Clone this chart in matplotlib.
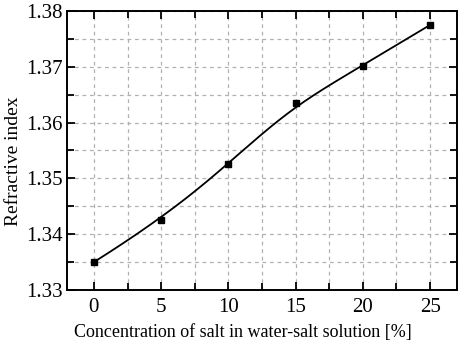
import numpy as np
import matplotlib
matplotlib.use("Agg")
import matplotlib.pyplot as plt
from matplotlib.ticker import MultipleLocator

concentration = [0, 5, 10, 15, 20, 25]
refractive_index = [1.3350, 1.3426, 1.3525, 1.3636, 1.3702, 1.3775]
x_ticks = [0, 5, 10, 15, 20, 25]
y_ticks = [1.33, 1.34, 1.35, 1.36, 1.37, 1.38]

plt.rcParams['font.family'] = ['Liberation Serif', 'DejaVu Serif']
plt.rcParams['mathtext.fontset'] = 'stix'


def bspline_curve(px, py, degree=3, num=300):
    """Clamped B-spline using the data points as control points."""
    px = np.asarray(px, float)
    py = np.asarray(py, float)
    n = len(px)
    inner = np.arange(1, n - degree)
    knots = np.concatenate([np.zeros(degree + 1), inner,
                            np.full(degree + 1, n - degree)]).astype(float)
    t = np.linspace(0, n - degree, num)
    t[-1] -= 1e-9

    def basis(i, k, tt):
        if k == 0:
            return np.where((knots[i] <= tt) & (tt < knots[i + 1]), 1.0, 0.0)
        d1 = knots[i + k] - knots[i]
        d2 = knots[i + k + 1] - knots[i + 1]
        a = 0.0 if d1 == 0 else (tt - knots[i]) / d1 * basis(i, k - 1, tt)
        b = 0.0 if d2 == 0 else (knots[i + k + 1] - tt) / d2 * basis(i + 1, k - 1, tt)
        return a + b

    B = np.array([basis(i, degree, t) for i in range(n)])
    return B.T @ px, B.T @ py


fig = plt.figure(figsize=(4.74, 3.51), dpi=100)
ax = fig.add_axes([67/474, 1 - 290/351, (457-67)/474, (290-11)/351])

cx, cy = bspline_curve(concentration, refractive_index)
ax.plot(cx, cy, color='black', lw=1.3, zorder=3)
ax.plot(concentration, refractive_index, 's', color='black', ms=5, zorder=4)

ax.set_xlim(-2, 27)
ax.set_ylim(1.33, 1.38)
ax.set_xticks(x_ticks)
ax.set_yticks(y_ticks)
ax.set_yticklabels([f"{v:.2f}" for v in y_ticks])
ax.xaxis.set_minor_locator(MultipleLocator(2.5))
ax.yaxis.set_minor_locator(MultipleLocator(0.005))

ax.grid(True, which='both', color='#b0b0b0', linestyle=(0, (3, 3)), lw=0.9)
ax.tick_params(which='both', direction='in', top=True, right=True,
               labelsize=15, width=1.3)
ax.tick_params(which='major', length=6)
ax.tick_params(axis='x', which='major', pad=6)
ax.tick_params(axis='y', which='major', pad=3)
ax.tick_params(which='minor', length=5)
for s in ax.spines.values():
    s.set_linewidth(1.4)

ax.set_xlabel('Concentration of salt in water-salt solution [%]', fontsize=13, labelpad=5)
ax.xaxis.label.set_x(0.45)
ax.set_ylabel('Refractive index', fontsize=14, labelpad=3)
ax.yaxis.label.set_y(0.462)

fig.savefig('out.png', dpi=100)
